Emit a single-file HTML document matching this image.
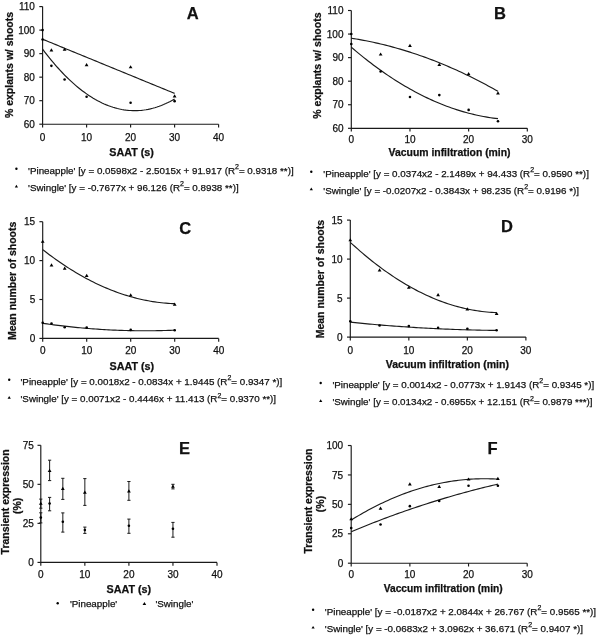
<!DOCTYPE html>
<html><head><meta charset="utf-8"><title>Figure</title>
<style>html,body{margin:0;padding:0;background:#fff;}body{width:596px;height:635px;overflow:hidden;}svg{display:block;}text{stroke:#111;stroke-width:0.25px;}</style>
</head><body>
<svg width="596" height="635" viewBox="0 0 596 635" style="font-family:&quot;Liberation Sans&quot;, sans-serif" fill="#111"><rect width="596" height="635" fill="#fff"/><path d="M42.6 6.6V124.2H218.6" stroke="#1a1a1a" stroke-width="1.15" fill="none"/>
<path d="M39.3 124.2H42.6" stroke="#1a1a1a" stroke-width="1.15"/>
<path d="M39.3 100.68H42.6" stroke="#1a1a1a" stroke-width="1.15"/>
<path d="M39.3 77.16H42.6" stroke="#1a1a1a" stroke-width="1.15"/>
<path d="M39.3 53.64H42.6" stroke="#1a1a1a" stroke-width="1.15"/>
<path d="M39.3 30.12H42.6" stroke="#1a1a1a" stroke-width="1.15"/>
<path d="M39.3 6.6H42.6" stroke="#1a1a1a" stroke-width="1.15"/>
<path d="M42.6 124.2V127.5" stroke="#1a1a1a" stroke-width="1.15"/>
<path d="M86.6 124.2V127.5" stroke="#1a1a1a" stroke-width="1.15"/>
<path d="M130.6 124.2V127.5" stroke="#1a1a1a" stroke-width="1.15"/>
<path d="M174.6 124.2V127.5" stroke="#1a1a1a" stroke-width="1.15"/>
<path d="M218.6 124.2V127.5" stroke="#1a1a1a" stroke-width="1.15"/>
<polyline points="42.6,49.13 44.8,52.04 47,54.87 49.2,57.64 51.4,60.34 53.6,62.96 55.8,65.52 58,68 60.2,70.41 62.4,72.76 64.6,75.03 66.8,77.24 69,79.37 71.2,81.43 73.4,83.42 75.6,85.35 77.8,87.2 80,88.98 82.2,90.69 84.4,92.33 86.6,93.9 88.8,95.4 91,96.83 93.2,98.19 95.4,99.48 97.6,100.7 99.8,101.85 102,102.93 104.2,103.93 106.4,104.87 108.6,105.74 110.8,106.53 113,107.26 115.2,107.92 117.4,108.5 119.6,109.02 121.8,109.46 124,109.84 126.2,110.14 128.4,110.38 130.6,110.54 132.8,110.64 135,110.66 137.2,110.61 139.4,110.49 141.6,110.31 143.8,110.05 146,109.72 148.2,109.32 150.4,108.85 152.6,108.31 154.8,107.7 157,107.02 159.2,106.27 161.4,105.45 163.6,104.56 165.8,103.6 168,102.57 170.2,101.47 172.4,100.29 174.6,99.05" stroke="#1a1a1a" stroke-width="1.15" fill="none"/>
<polyline points="42.6,39.23 44.8,40.13 47,41.04 49.2,41.94 51.4,42.84 53.6,43.75 55.8,44.65 58,45.55 60.2,46.45 62.4,47.36 64.6,48.26 66.8,49.16 69,50.07 71.2,50.97 73.4,51.87 75.6,52.77 77.8,53.68 80,54.58 82.2,55.48 84.4,56.39 86.6,57.29 88.8,58.19 91,59.09 93.2,60 95.4,60.9 97.6,61.8 99.8,62.7 102,63.61 104.2,64.51 106.4,65.41 108.6,66.32 110.8,67.22 113,68.12 115.2,69.02 117.4,69.93 119.6,70.83 121.8,71.73 124,72.64 126.2,73.54 128.4,74.44 130.6,75.34 132.8,76.25 135,77.15 137.2,78.05 139.4,78.96 141.6,79.86 143.8,80.76 146,81.66 148.2,82.57 150.4,83.47 152.6,84.37 154.8,85.28 157,86.18 159.2,87.08 161.4,87.98 163.6,88.89 165.8,89.79 168,90.69 170.2,91.59 172.4,92.5 174.6,93.4" stroke="#1a1a1a" stroke-width="1.15" fill="none"/>
<circle cx="42.6" cy="30.12" r="1.3" fill="#000"/>
<circle cx="42.6" cy="39.53" r="1.3" fill="#000"/>
<circle cx="51.4" cy="65.87" r="1.3" fill="#000"/>
<circle cx="64.6" cy="79.51" r="1.3" fill="#000"/>
<circle cx="86.6" cy="96.68" r="1.3" fill="#000"/>
<circle cx="130.6" cy="102.8" r="1.3" fill="#000"/>
<circle cx="174.6" cy="101.15" r="1.3" fill="#000"/>
<path d="M51.4 48.21L53.3 51.41H49.5Z" fill="#000"/>
<path d="M64.6 47.51L66.5 50.71H62.7Z" fill="#000"/>
<path d="M86.6 63.03L88.5 66.23H84.7Z" fill="#000"/>
<path d="M130.6 65.15L132.5 68.35H128.7Z" fill="#000"/>
<path d="M174.6 94.31L176.5 97.51H172.7Z" fill="#000"/>
<circle cx="16.4" cy="168.8" r="1.2" fill="#000"/>
<path d="M16.4 184.8L18 187.5H14.8Z" fill="#000"/>
<path d="M351.3 10.5V128.3H527.31" stroke="#1a1a1a" stroke-width="1.15" fill="none"/>
<path d="M348 128.3H351.3" stroke="#1a1a1a" stroke-width="1.15"/>
<path d="M348 104.74H351.3" stroke="#1a1a1a" stroke-width="1.15"/>
<path d="M348 81.18H351.3" stroke="#1a1a1a" stroke-width="1.15"/>
<path d="M348 57.62H351.3" stroke="#1a1a1a" stroke-width="1.15"/>
<path d="M348 34.06H351.3" stroke="#1a1a1a" stroke-width="1.15"/>
<path d="M348 10.5H351.3" stroke="#1a1a1a" stroke-width="1.15"/>
<path d="M351.3 128.3V131.6" stroke="#1a1a1a" stroke-width="1.15"/>
<path d="M409.97 128.3V131.6" stroke="#1a1a1a" stroke-width="1.15"/>
<path d="M468.64 128.3V131.6" stroke="#1a1a1a" stroke-width="1.15"/>
<path d="M527.31 128.3V131.6" stroke="#1a1a1a" stroke-width="1.15"/>
<polyline points="351.3,47.18 353.74,49.27 356.19,51.33 358.63,53.37 361.08,55.37 363.52,57.34 365.97,59.28 368.41,61.19 370.86,63.07 373.3,64.92 375.75,66.74 378.19,68.53 380.63,70.29 383.08,72.01 385.52,73.71 387.97,75.38 390.41,77.01 392.86,78.62 395.3,80.19 397.75,81.73 400.19,83.25 402.64,84.73 405.08,86.18 407.53,87.6 409.97,88.99 412.41,90.35 414.86,91.68 417.3,92.98 419.75,94.25 422.19,95.49 424.64,96.69 427.08,97.87 429.53,99.02 431.97,100.13 434.42,101.21 436.86,102.27 439.31,103.29 441.75,104.29 444.19,105.25 446.64,106.18 449.08,107.08 451.53,107.95 453.97,108.79 456.42,109.6 458.86,110.38 461.31,111.13 463.75,111.84 466.2,112.53 468.64,113.19 471.08,113.81 473.53,114.41 475.97,114.97 478.42,115.51 480.86,116.01 483.31,116.48 485.75,116.92 488.2,117.33 490.64,117.72 493.09,118.07 495.53,118.39 497.98,118.67" stroke="#1a1a1a" stroke-width="1.15" fill="none"/>
<polyline points="351.3,38.22 353.74,38.6 356.19,39.01 358.63,39.43 361.08,39.86 363.52,40.32 365.97,40.79 368.41,41.27 370.86,41.78 373.3,42.3 375.75,42.84 378.19,43.39 380.63,43.96 383.08,44.55 385.52,45.16 387.97,45.78 390.41,46.42 392.86,47.08 395.3,47.75 397.75,48.44 400.19,49.15 402.64,49.87 405.08,50.62 407.53,51.37 409.97,52.15 412.41,52.94 414.86,53.75 417.3,54.58 419.75,55.42 422.19,56.28 424.64,57.16 427.08,58.05 429.53,58.96 431.97,59.89 434.42,60.83 436.86,61.79 439.31,62.77 441.75,63.77 444.19,64.78 446.64,65.81 449.08,66.86 451.53,67.92 453.97,69 456.42,70.1 458.86,71.21 461.31,72.34 463.75,73.49 466.2,74.65 468.64,75.83 471.08,77.03 473.53,78.25 475.97,79.48 478.42,80.73 480.86,82 483.31,83.28 485.75,84.58 488.2,85.9 490.64,87.23 493.09,88.58 495.53,89.95 497.98,91.33" stroke="#1a1a1a" stroke-width="1.15" fill="none"/>
<circle cx="351.3" cy="34.06" r="1.3" fill="#000"/>
<circle cx="351.3" cy="43.96" r="1.3" fill="#000"/>
<circle cx="380.63" cy="71.52" r="1.3" fill="#000"/>
<circle cx="409.97" cy="96.97" r="1.3" fill="#000"/>
<circle cx="439.31" cy="95.08" r="1.3" fill="#000"/>
<circle cx="468.64" cy="109.92" r="1.3" fill="#000"/>
<circle cx="497.98" cy="121.23" r="1.3" fill="#000"/>
<path d="M380.63 52.42L382.53 55.62H378.74Z" fill="#000"/>
<path d="M409.97 43.7L411.87 46.9H408.07Z" fill="#000"/>
<path d="M439.31 62.79L441.2 65.99H437.41Z" fill="#000"/>
<path d="M468.64 71.98L470.54 75.18H466.74Z" fill="#000"/>
<path d="M497.98 91.3L499.88 94.5H496.08Z" fill="#000"/>
<circle cx="311.3" cy="171.7" r="1.2" fill="#000"/>
<path d="M311.3 187.5L312.9 190.2H309.7Z" fill="#000"/>
<path d="M42.7 221.7V338.4H218.7" stroke="#1a1a1a" stroke-width="1.15" fill="none"/>
<path d="M39.4 338.4H42.7" stroke="#1a1a1a" stroke-width="1.15"/>
<path d="M39.4 299.5H42.7" stroke="#1a1a1a" stroke-width="1.15"/>
<path d="M39.4 260.6H42.7" stroke="#1a1a1a" stroke-width="1.15"/>
<path d="M39.4 221.7H42.7" stroke="#1a1a1a" stroke-width="1.15"/>
<path d="M42.7 338.4V341.7" stroke="#1a1a1a" stroke-width="1.15"/>
<path d="M86.7 338.4V341.7" stroke="#1a1a1a" stroke-width="1.15"/>
<path d="M130.7 338.4V341.7" stroke="#1a1a1a" stroke-width="1.15"/>
<path d="M174.7 338.4V341.7" stroke="#1a1a1a" stroke-width="1.15"/>
<path d="M218.7 338.4V341.7" stroke="#1a1a1a" stroke-width="1.15"/>
<polyline points="42.7,323.27 44.9,323.59 47.1,323.91 49.3,324.21 51.5,324.51 53.7,324.81 55.9,325.09 58.1,325.37 60.3,325.64 62.5,325.91 64.7,326.17 66.9,326.42 69.1,326.66 71.3,326.9 73.5,327.13 75.7,327.35 77.9,327.57 80.1,327.78 82.3,327.98 84.5,328.17 86.7,328.36 88.9,328.54 91.1,328.71 93.3,328.88 95.5,329.04 97.7,329.19 99.9,329.34 102.1,329.48 104.3,329.61 106.5,329.74 108.7,329.85 110.9,329.96 113.1,330.07 115.3,330.17 117.5,330.26 119.7,330.34 121.9,330.41 124.1,330.48 126.3,330.54 128.5,330.6 130.7,330.65 132.9,330.69 135.1,330.72 137.3,330.75 139.5,330.77 141.7,330.78 143.9,330.79 146.1,330.79 148.3,330.78 150.5,330.76 152.7,330.74 154.9,330.71 157.1,330.68 159.3,330.63 161.5,330.58 163.7,330.52 165.9,330.46 168.1,330.39 170.3,330.31 172.5,330.23 174.7,330.13" stroke="#1a1a1a" stroke-width="1.15" fill="none"/>
<polyline points="42.7,249.61 44.9,251.32 47.1,253.01 49.3,254.67 51.5,256.3 53.7,257.91 55.9,259.49 58.1,261.04 60.3,262.56 62.5,264.05 64.7,265.52 66.9,266.96 69.1,268.37 71.3,269.76 73.5,271.11 75.7,272.44 77.9,273.74 80.1,275.02 82.3,276.26 84.5,277.48 86.7,278.67 88.9,279.84 91.1,280.97 93.3,282.08 95.5,283.16 97.7,284.21 99.9,285.24 102.1,286.24 104.3,287.21 106.5,288.15 108.7,289.06 110.9,289.95 113.1,290.81 115.3,291.64 117.5,292.45 119.7,293.22 121.9,293.97 124.1,294.69 126.3,295.39 128.5,296.05 130.7,296.69 132.9,297.3 135.1,297.89 137.3,298.44 139.5,298.97 141.7,299.47 143.9,299.94 146.1,300.39 148.3,300.81 150.5,301.2 152.7,301.56 154.9,301.89 157.1,302.2 159.3,302.48 161.5,302.73 163.7,302.96 165.9,303.15 168.1,303.32 170.3,303.46 172.5,303.58 174.7,303.66" stroke="#1a1a1a" stroke-width="1.15" fill="none"/>
<circle cx="42.7" cy="322.84" r="1.3" fill="#000"/>
<circle cx="51.5" cy="323.62" r="1.3" fill="#000"/>
<circle cx="64.7" cy="327.2" r="1.3" fill="#000"/>
<circle cx="86.7" cy="327.43" r="1.3" fill="#000"/>
<circle cx="130.7" cy="329.92" r="1.3" fill="#000"/>
<circle cx="174.7" cy="330.23" r="1.3" fill="#000"/>
<path d="M42.7 239.64L44.6 242.84H40.8Z" fill="#000"/>
<path d="M51.5 263.37L53.4 266.57H49.6Z" fill="#000"/>
<path d="M64.7 266.48L66.6 269.68H62.8Z" fill="#000"/>
<path d="M86.7 273.79L88.6 276.99H84.8Z" fill="#000"/>
<path d="M130.7 293.32L132.6 296.52H128.8Z" fill="#000"/>
<path d="M174.7 302.58L176.6 305.78H172.8Z" fill="#000"/>
<circle cx="9.2" cy="379.8" r="1.2" fill="#000"/>
<path d="M9.2 396.1L10.8 398.8H7.6Z" fill="#000"/>
<path d="M350.3 220.1V337.1H525.89" stroke="#1a1a1a" stroke-width="1.15" fill="none"/>
<path d="M347 337.1H350.3" stroke="#1a1a1a" stroke-width="1.15"/>
<path d="M347 298.1H350.3" stroke="#1a1a1a" stroke-width="1.15"/>
<path d="M347 259.1H350.3" stroke="#1a1a1a" stroke-width="1.15"/>
<path d="M347 220.1H350.3" stroke="#1a1a1a" stroke-width="1.15"/>
<path d="M350.3 337.1V340.4" stroke="#1a1a1a" stroke-width="1.15"/>
<path d="M408.83 337.1V340.4" stroke="#1a1a1a" stroke-width="1.15"/>
<path d="M467.36 337.1V340.4" stroke="#1a1a1a" stroke-width="1.15"/>
<path d="M525.89 337.1V340.4" stroke="#1a1a1a" stroke-width="1.15"/>
<polyline points="350.3,322.17 352.74,322.42 355.18,322.66 357.62,322.91 360.06,323.14 362.49,323.38 364.93,323.61 367.37,323.83 369.81,324.06 372.25,324.28 374.69,324.49 377.13,324.7 379.56,324.91 382,325.11 384.44,325.31 386.88,325.51 389.32,325.7 391.76,325.89 394.2,326.08 396.64,326.26 399.07,326.43 401.51,326.61 403.95,326.78 406.39,326.94 408.83,327.11 411.27,327.26 413.71,327.42 416.15,327.57 418.59,327.72 421.02,327.86 423.46,328 425.9,328.13 428.34,328.27 430.78,328.39 433.22,328.52 435.66,328.64 438.1,328.76 440.53,328.87 442.97,328.98 445.41,329.08 447.85,329.18 450.29,329.28 452.73,329.38 455.17,329.47 457.61,329.55 460.04,329.63 462.48,329.71 464.92,329.79 467.36,329.86 469.8,329.93 472.24,329.99 474.68,330.05 477.12,330.11 479.55,330.16 481.99,330.21 484.43,330.25 486.87,330.29 489.31,330.33 491.75,330.36 494.19,330.39 496.62,330.42" stroke="#1a1a1a" stroke-width="1.15" fill="none"/>
<polyline points="350.3,242.32 352.74,244.56 355.18,246.77 357.62,248.94 360.06,251.07 362.49,253.17 364.93,255.23 367.37,257.26 369.81,259.24 372.25,261.2 374.69,263.11 377.13,264.99 379.56,266.83 382,268.64 384.44,270.41 386.88,272.15 389.32,273.84 391.76,275.5 394.2,277.13 396.64,278.72 399.07,280.27 401.51,281.79 403.95,283.27 406.39,284.71 408.83,286.12 411.27,287.49 413.71,288.83 416.15,290.12 418.59,291.39 421.02,292.61 423.46,293.8 425.9,294.96 428.34,296.07 430.78,297.15 433.22,298.2 435.66,299.21 438.1,300.18 440.53,301.11 442.97,302.01 445.41,302.88 447.85,303.7 450.29,304.49 452.73,305.25 455.17,305.97 457.61,306.65 460.04,307.29 462.48,307.9 464.92,308.48 467.36,309.01 469.8,309.51 472.24,309.98 474.68,310.4 477.12,310.8 479.55,311.15 481.99,311.47 484.43,311.75 486.87,312 489.31,312.21 491.75,312.38 494.19,312.52 496.62,312.62" stroke="#1a1a1a" stroke-width="1.15" fill="none"/>
<circle cx="350.3" cy="321.19" r="1.3" fill="#000"/>
<circle cx="379.56" cy="325.48" r="1.3" fill="#000"/>
<circle cx="408.83" cy="326.02" r="1.3" fill="#000"/>
<circle cx="438.1" cy="327.9" r="1.3" fill="#000"/>
<circle cx="467.36" cy="328.68" r="1.3" fill="#000"/>
<circle cx="496.62" cy="330.31" r="1.3" fill="#000"/>
<path d="M350.3 238.17L352.2 241.37H348.4Z" fill="#000"/>
<path d="M379.56 268.28L381.46 271.48H377.67Z" fill="#000"/>
<path d="M408.83 285.67L410.73 288.87H406.93Z" fill="#000"/>
<path d="M438.1 293L440 296.2H436.2Z" fill="#000"/>
<path d="M467.36 307.2L469.26 310.4H465.46Z" fill="#000"/>
<path d="M496.62 311.8L498.52 315H494.73Z" fill="#000"/>
<circle cx="320.7" cy="383" r="1.2" fill="#000"/>
<path d="M320.7 399.2L322.3 401.9H319.1Z" fill="#000"/>
<path d="M40.8 445.31V562.4H217" stroke="#1a1a1a" stroke-width="1.15" fill="none"/>
<path d="M37.5 562.4H40.8" stroke="#1a1a1a" stroke-width="1.15"/>
<path d="M37.5 523.37H40.8" stroke="#1a1a1a" stroke-width="1.15"/>
<path d="M37.5 484.34H40.8" stroke="#1a1a1a" stroke-width="1.15"/>
<path d="M37.5 445.31H40.8" stroke="#1a1a1a" stroke-width="1.15"/>
<path d="M40.8 562.4V565.7" stroke="#1a1a1a" stroke-width="1.15"/>
<path d="M84.85 562.4V565.7" stroke="#1a1a1a" stroke-width="1.15"/>
<path d="M128.9 562.4V565.7" stroke="#1a1a1a" stroke-width="1.15"/>
<path d="M172.95 562.4V565.7" stroke="#1a1a1a" stroke-width="1.15"/>
<path d="M217 562.4V565.7" stroke="#1a1a1a" stroke-width="1.15"/>
<path d="M40.8 499.1V508.2M39.2 499.1H42.4M39.2 508.2H42.4" stroke="#1a1a1a" stroke-width="1" fill="none"/>
<path d="M40.8 512.8V522.9M39.2 512.8H42.4M39.2 522.9H42.4" stroke="#1a1a1a" stroke-width="1" fill="none"/>
<path d="M49.61 460.2V480.6M48.01 460.2H51.21M48.01 480.6H51.21" stroke="#1a1a1a" stroke-width="1" fill="none"/>
<path d="M49.61 497.4V510.8M48.01 497.4H51.21M48.01 510.8H51.21" stroke="#1a1a1a" stroke-width="1" fill="none"/>
<path d="M62.83 478.3V499.4M61.23 478.3H64.42M61.23 499.4H64.42" stroke="#1a1a1a" stroke-width="1" fill="none"/>
<path d="M62.83 512.9V532.1M61.23 512.9H64.42M61.23 532.1H64.42" stroke="#1a1a1a" stroke-width="1" fill="none"/>
<path d="M84.85 478.6V505.4M83.25 478.6H86.45M83.25 505.4H86.45" stroke="#1a1a1a" stroke-width="1" fill="none"/>
<path d="M84.85 527.1V533.4M83.25 527.1H86.45M83.25 533.4H86.45" stroke="#1a1a1a" stroke-width="1" fill="none"/>
<path d="M128.9 481.5V500.3M127.3 481.5H130.5M127.3 500.3H130.5" stroke="#1a1a1a" stroke-width="1" fill="none"/>
<path d="M128.9 519.1V533.3M127.3 519.1H130.5M127.3 533.3H130.5" stroke="#1a1a1a" stroke-width="1" fill="none"/>
<path d="M172.95 484.3V488.9M171.35 484.3H174.55M171.35 488.9H174.55" stroke="#1a1a1a" stroke-width="1" fill="none"/>
<path d="M172.95 522.4V537.2M171.35 522.4H174.55M171.35 537.2H174.55" stroke="#1a1a1a" stroke-width="1" fill="none"/>
<path d="M40.8 501.64L42.7 504.84H38.9Z" fill="#000"/>
<circle cx="40.8" cy="517.59" r="1.3" fill="#000"/>
<path d="M49.61 468.7L51.51 471.9H47.71Z" fill="#000"/>
<circle cx="49.61" cy="503.54" r="1.3" fill="#000"/>
<path d="M62.83 486.81L64.73 490.01H60.93Z" fill="#000"/>
<circle cx="62.83" cy="521.81" r="1.3" fill="#000"/>
<path d="M84.85 490.56L86.75 493.76H82.95Z" fill="#000"/>
<circle cx="84.85" cy="529.93" r="1.3" fill="#000"/>
<path d="M128.9 489.31L130.8 492.51H127Z" fill="#000"/>
<circle cx="128.9" cy="525.71" r="1.3" fill="#000"/>
<path d="M172.95 484.63L174.85 487.83H171.05Z" fill="#000"/>
<circle cx="172.95" cy="528.68" r="1.3" fill="#000"/>
<circle cx="57.7" cy="603.2" r="1.2" fill="#000"/>
<path d="M144.4 602L146.2 605H142.6Z" fill="#000"/>
<path d="M351.2 445.52V563.2H527.21" stroke="#1a1a1a" stroke-width="1.15" fill="none"/>
<path d="M347.9 563.2H351.2" stroke="#1a1a1a" stroke-width="1.15"/>
<path d="M347.9 533.78H351.2" stroke="#1a1a1a" stroke-width="1.15"/>
<path d="M347.9 504.36H351.2" stroke="#1a1a1a" stroke-width="1.15"/>
<path d="M347.9 474.94H351.2" stroke="#1a1a1a" stroke-width="1.15"/>
<path d="M347.9 445.52H351.2" stroke="#1a1a1a" stroke-width="1.15"/>
<path d="M351.2 563.2V566.5" stroke="#1a1a1a" stroke-width="1.15"/>
<path d="M409.87 563.2V566.5" stroke="#1a1a1a" stroke-width="1.15"/>
<path d="M468.54 563.2V566.5" stroke="#1a1a1a" stroke-width="1.15"/>
<path d="M527.21 563.2V566.5" stroke="#1a1a1a" stroke-width="1.15"/>
<polyline points="351.2,531.7 353.64,530.68 356.09,529.67 358.53,528.67 360.98,527.67 363.42,526.69 365.87,525.71 368.31,524.73 370.76,523.77 373.2,522.81 375.65,521.86 378.09,520.92 380.53,519.99 382.98,519.06 385.42,518.14 387.87,517.23 390.31,516.33 392.76,515.43 395.2,514.54 397.65,513.66 400.09,512.79 402.54,511.92 404.98,511.06 407.43,510.21 409.87,509.37 412.31,508.54 414.76,507.71 417.2,506.89 419.65,506.08 422.09,505.27 424.54,504.48 426.98,503.69 429.43,502.91 431.87,502.13 434.32,501.37 436.76,500.61 439.2,499.86 441.65,499.11 444.09,498.38 446.54,497.65 448.98,496.93 451.43,496.22 453.87,495.51 456.32,494.82 458.76,494.13 461.21,493.44 463.65,492.77 466.1,492.1 468.54,491.44 470.98,490.79 473.43,490.15 475.87,489.51 478.32,488.88 480.76,488.26 483.21,487.65 485.65,487.04 488.1,486.45 490.54,485.86 492.99,485.27 495.43,484.7 497.88,484.13" stroke="#1a1a1a" stroke-width="1.15" fill="none"/>
<polyline points="351.2,520.05 353.64,518.54 356.09,517.07 358.53,515.62 360.98,514.2 363.42,512.8 365.87,511.44 368.31,510.1 370.76,508.79 373.2,507.51 375.65,506.26 378.09,505.03 380.53,503.84 382.98,502.67 385.42,501.53 387.87,500.41 390.31,499.33 392.76,498.27 395.2,497.24 397.65,496.24 400.09,495.26 402.54,494.32 404.98,493.4 407.43,492.51 409.87,491.65 412.31,490.81 414.76,490.01 417.2,489.23 419.65,488.48 422.09,487.75 424.54,487.06 426.98,486.39 429.43,485.75 431.87,485.14 434.32,484.56 436.76,484 439.2,483.48 441.65,482.98 444.09,482.5 446.54,482.06 448.98,481.65 451.43,481.26 453.87,480.9 456.32,480.57 458.76,480.26 461.21,479.98 463.65,479.74 466.1,479.52 468.54,479.32 470.98,479.16 473.43,479.02 475.87,478.91 478.32,478.83 480.76,478.78 483.21,478.75 485.65,478.76 488.1,478.79 490.54,478.85 492.99,478.93 495.43,479.05 497.88,479.19" stroke="#1a1a1a" stroke-width="1.15" fill="none"/>
<path d="M351.2 517.17L353.1 520.37H349.3Z" fill="#000"/>
<circle cx="351.2" cy="528.01" r="1.3" fill="#000"/>
<path d="M380.53 506.46L382.43 509.66H378.63Z" fill="#000"/>
<circle cx="380.53" cy="524.48" r="1.3" fill="#000"/>
<path d="M409.87 482.22L411.77 485.42H407.97Z" fill="#000"/>
<circle cx="409.87" cy="506.13" r="1.3" fill="#000"/>
<path d="M439.2 484.69L441.1 487.89H437.31Z" fill="#000"/>
<circle cx="439.2" cy="501.06" r="1.3" fill="#000"/>
<path d="M468.54 477.39L470.44 480.59H466.64Z" fill="#000"/>
<circle cx="468.54" cy="485.77" r="1.3" fill="#000"/>
<path d="M497.88 476.69L499.77 479.89H495.98Z" fill="#000"/>
<circle cx="497.88" cy="485.77" r="1.3" fill="#000"/>
<circle cx="313.1" cy="609.8" r="1.2" fill="#000"/>
<path d="M313.1 625.9L314.7 628.6H311.5Z" fill="#000"/>
<text x="34.9" y="127.8" text-anchor="end" font-size="10">60</text>
<text x="34.9" y="104.28" text-anchor="end" font-size="10">70</text>
<text x="34.9" y="80.76" text-anchor="end" font-size="10">80</text>
<text x="34.9" y="57.24" text-anchor="end" font-size="10">90</text>
<text x="34.9" y="33.72" text-anchor="end" font-size="10">100</text>
<text x="34.9" y="10.2" text-anchor="end" font-size="10">110</text>
<text x="42.6" y="140.6" text-anchor="middle" font-size="10">0</text>
<text x="86.6" y="140.6" text-anchor="middle" font-size="10">10</text>
<text x="130.6" y="140.6" text-anchor="middle" font-size="10">20</text>
<text x="174.6" y="140.6" text-anchor="middle" font-size="10">30</text>
<text x="218.6" y="140.6" text-anchor="middle" font-size="10">40</text>
<text x="131.6" y="155.5" text-anchor="middle" font-size="10.75" font-weight="bold">SAAT (s)</text>
<text transform="translate(12.6 65) rotate(-90)" x="0" y="0" text-anchor="middle" font-size="10.5" font-weight="bold">% explants w/ shoots</text>
<text x="192.8" y="18.9" text-anchor="middle" font-size="16.5" font-weight="bold">A</text>
<text x="28.1" y="173.8" font-size="9.8" xml:space="preserve">'Pineapple' [y = 0.0598x2 - 2.5015x + 91.917 (R<tspan dy="-4.7" font-size="7">2</tspan><tspan dy="4.7">= 0.9318 **)]</tspan></text>
<text x="28.1" y="190.9" font-size="9.8" xml:space="preserve">'Swingle' [y = -0.7677x + 96.126 (R<tspan dy="-4.7" font-size="7">2</tspan><tspan dy="4.7">= 0.8938 **)]</tspan></text>
<text x="343.5" y="131.9" text-anchor="end" font-size="10">60</text>
<text x="343.5" y="108.34" text-anchor="end" font-size="10">70</text>
<text x="343.5" y="84.78" text-anchor="end" font-size="10">80</text>
<text x="343.5" y="61.22" text-anchor="end" font-size="10">90</text>
<text x="343.5" y="37.66" text-anchor="end" font-size="10">100</text>
<text x="343.5" y="14.1" text-anchor="end" font-size="10">110</text>
<text x="351.3" y="142.5" text-anchor="middle" font-size="10">0</text>
<text x="409.97" y="142.5" text-anchor="middle" font-size="10">10</text>
<text x="468.64" y="142.5" text-anchor="middle" font-size="10">20</text>
<text x="527.31" y="142.5" text-anchor="middle" font-size="10">30</text>
<text x="449.6" y="155.8" text-anchor="middle" font-size="10.42" font-weight="bold">Vacuum infiltration (min)</text>
<text transform="translate(320.8 65.6) rotate(-90)" x="0" y="0" text-anchor="middle" font-size="10.5" font-weight="bold">% explants w/ shoots</text>
<text x="500" y="18.9" text-anchor="middle" font-size="16.5" font-weight="bold">B</text>
<text x="323.3" y="176.7" font-size="9.8" xml:space="preserve">'Pineapple' [y = 0.0374x2 - 2.1489x + 94.433 (R<tspan dy="-4.7" font-size="7">2</tspan><tspan dy="4.7">= 0.9590 **)]</tspan></text>
<text x="323.3" y="193.6" font-size="9.8" xml:space="preserve">'Swingle' [y = -0.0207x2 - 0.3843x + 98.235 (R<tspan dy="-4.7" font-size="7">2</tspan><tspan dy="4.7">= 0.9196 *)]</tspan></text>
<text x="35.2" y="342" text-anchor="end" font-size="10">0</text>
<text x="35.2" y="303.1" text-anchor="end" font-size="10">5</text>
<text x="35.2" y="264.2" text-anchor="end" font-size="10">10</text>
<text x="35.2" y="225.3" text-anchor="end" font-size="10">15</text>
<text x="42.7" y="353.6" text-anchor="middle" font-size="10">0</text>
<text x="86.7" y="353.6" text-anchor="middle" font-size="10">10</text>
<text x="130.7" y="353.6" text-anchor="middle" font-size="10">20</text>
<text x="174.7" y="353.6" text-anchor="middle" font-size="10">30</text>
<text x="218.7" y="353.6" text-anchor="middle" font-size="10">40</text>
<text x="131.8" y="369.8" text-anchor="middle" font-size="10.75" font-weight="bold">SAAT (s)</text>
<text transform="translate(15.9 280.9) rotate(-90)" x="0" y="0" text-anchor="middle" font-size="10.5" font-weight="bold">Mean number of shoots</text>
<text x="185.3" y="233.6" text-anchor="middle" font-size="16.5" font-weight="bold">C</text>
<text x="20.5" y="384.8" font-size="9.8" xml:space="preserve">'Pineapple' [y = 0.0018x2 - 0.0834x + 1.9445 (R<tspan dy="-4.7" font-size="7">2</tspan><tspan dy="4.7">= 0.9347 *)]</tspan></text>
<text x="20.5" y="402.2" font-size="9.8" xml:space="preserve">'Swingle' [y = 0.0071x2 - 0.4446x + 11.413 (R<tspan dy="-4.7" font-size="7">2</tspan><tspan dy="4.7">= 0.9370 **)]</tspan></text>
<text x="342.5" y="340.7" text-anchor="end" font-size="10">0</text>
<text x="342.5" y="301.7" text-anchor="end" font-size="10">5</text>
<text x="342.5" y="262.7" text-anchor="end" font-size="10">10</text>
<text x="342.5" y="223.7" text-anchor="end" font-size="10">15</text>
<text x="350.3" y="353.5" text-anchor="middle" font-size="10">0</text>
<text x="408.83" y="353.5" text-anchor="middle" font-size="10">10</text>
<text x="467.36" y="353.5" text-anchor="middle" font-size="10">20</text>
<text x="525.89" y="353.5" text-anchor="middle" font-size="10">30</text>
<text x="447.4" y="368.4" text-anchor="middle" font-size="10.5" font-weight="bold">Vacuum infiltration (min)</text>
<text transform="translate(324.2 279.1) rotate(-90)" x="0" y="0" text-anchor="middle" font-size="10.5" font-weight="bold">Mean number of shoots</text>
<text x="507" y="231.9" text-anchor="middle" font-size="16.5" font-weight="bold">D</text>
<text x="332.4" y="388" font-size="9.8" xml:space="preserve">'Pineapple' [y = 0.0014x2 - 0.0773x + 1.9143 (R<tspan dy="-4.7" font-size="7">2</tspan><tspan dy="4.7">= 0.9345 *)]</tspan></text>
<text x="332.4" y="405.3" font-size="9.8" xml:space="preserve">'Swingle' [y = 0.0134x2 - 0.6955x + 12.151 (R<tspan dy="-4.7" font-size="7">2</tspan><tspan dy="4.7">= 0.9879 ***)]</tspan></text>
<text x="33.8" y="566" text-anchor="end" font-size="10">0</text>
<text x="33.8" y="526.97" text-anchor="end" font-size="10">25</text>
<text x="33.8" y="487.94" text-anchor="end" font-size="10">50</text>
<text x="33.8" y="448.91" text-anchor="end" font-size="10">75</text>
<text x="40.8" y="577.8" text-anchor="middle" font-size="10">0</text>
<text x="84.85" y="577.8" text-anchor="middle" font-size="10">10</text>
<text x="128.9" y="577.8" text-anchor="middle" font-size="10">20</text>
<text x="172.95" y="577.8" text-anchor="middle" font-size="10">30</text>
<text x="217" y="577.8" text-anchor="middle" font-size="10">40</text>
<text x="128.8" y="592.5" text-anchor="middle" font-size="10.75" font-weight="bold">SAAT (s)</text>
<text transform="translate(9 501.9) rotate(-90)" x="0" y="0" text-anchor="middle" font-size="10.5" font-weight="bold">Transient expression</text>
<text transform="translate(20.5 505.9) rotate(-90)" x="0" y="0" text-anchor="middle" font-size="10.5" font-weight="bold">(%)</text>
<text x="184.6" y="453.9" text-anchor="middle" font-size="16.5" font-weight="bold">E</text>
<text x="69.9" y="606.8" font-size="9.8">'Pineapple'</text>
<text x="155.4" y="606.8" font-size="9.8">'Swingle'</text>
<text x="343.2" y="566.8" text-anchor="end" font-size="10">0</text>
<text x="343.2" y="537.38" text-anchor="end" font-size="10">25</text>
<text x="343.2" y="507.96" text-anchor="end" font-size="10">50</text>
<text x="343.2" y="478.54" text-anchor="end" font-size="10">75</text>
<text x="343.2" y="449.12" text-anchor="end" font-size="10">100</text>
<text x="351.2" y="578" text-anchor="middle" font-size="10">0</text>
<text x="409.87" y="578" text-anchor="middle" font-size="10">10</text>
<text x="468.54" y="578" text-anchor="middle" font-size="10">20</text>
<text x="527.21" y="578" text-anchor="middle" font-size="10">30</text>
<text x="443.2" y="592" text-anchor="middle" font-size="10.2" font-weight="bold">Vaccum infiltration (min)</text>
<text transform="translate(312.1 501) rotate(-90)" x="0" y="0" text-anchor="middle" font-size="10.5" font-weight="bold">Transient expression</text>
<text transform="translate(323.5 504) rotate(-90)" x="0" y="0" text-anchor="middle" font-size="10.5" font-weight="bold">(%)</text>
<text x="492.5" y="453.9" text-anchor="middle" font-size="16.5" font-weight="bold">F</text>
<text x="324.8" y="614.8" font-size="9.8" xml:space="preserve">'Pineapple' [y = -0.0187x2 + 2.0844x + 26.767 (R<tspan dy="-4.7" font-size="7">2</tspan><tspan dy="4.7">= 0.9565 **)]</tspan></text>
<text x="324.8" y="632" font-size="9.8" xml:space="preserve">'Swingle' [y = -0.0683x2 + 3.0962x + 36.671 (R<tspan dy="-4.7" font-size="7">2</tspan><tspan dy="4.7">= 0.9407 *)]</tspan></text></svg>
</body></html>
